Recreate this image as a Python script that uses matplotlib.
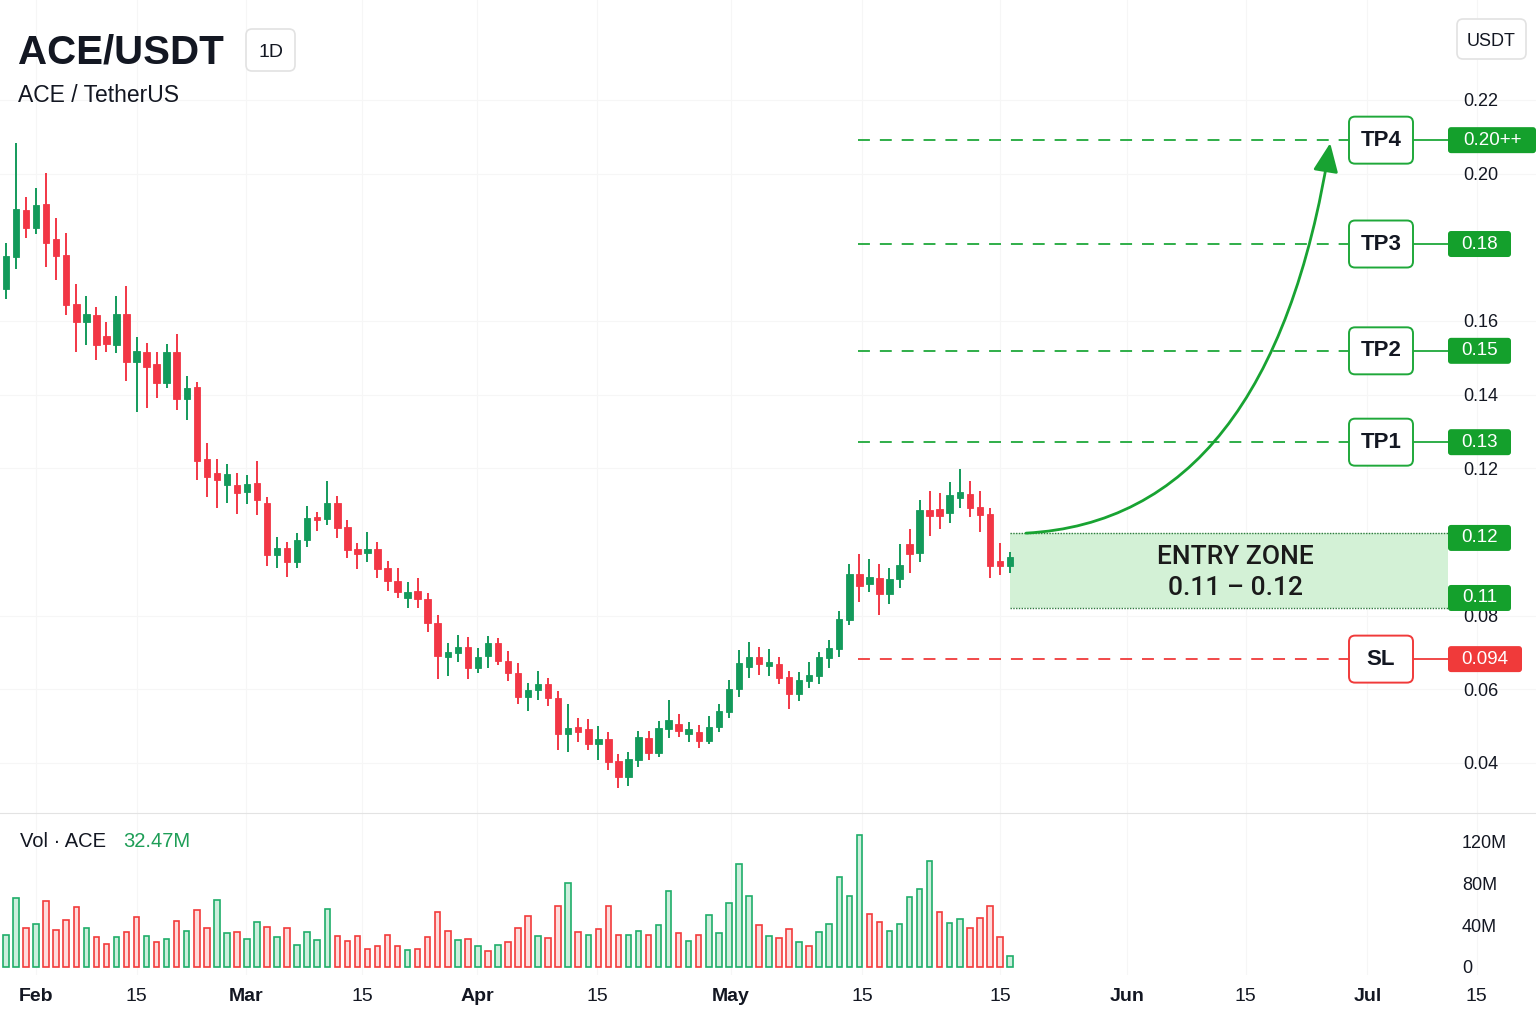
import numpy as np
import matplotlib
matplotlib.use('Agg')
import matplotlib.pyplot as plt
import matplotlib.transforms as mtransforms
from matplotlib.patches import FancyBboxPatch, Rectangle, FancyArrowPatch
from matplotlib.path import Path

plt.rcParams['font.family'] = ['Liberation Sans', 'DejaVu Sans']

W, H = 1536, 1024

# daily candles, ACE/USDT
opens = [
    0.1687, 0.1774, 0.1901, 0.1852, 0.1918, 0.1823, 0.1779, 0.1646, 0.1597, 0.1616,
    0.1559, 0.1535, 0.1619, 0.1489, 0.1516, 0.1483, 0.1432, 0.1516, 0.1388, 0.1421,
    0.1225, 0.1187, 0.1155, 0.1155, 0.1136, 0.1160, 0.1106, 0.0965, 0.0984, 0.0946,
    0.1005, 0.1068, 0.1063, 0.1106, 0.1041, 0.0981, 0.0970, 0.0981, 0.0929, 0.0894,
    0.0848, 0.0867, 0.0845, 0.0780, 0.0688, 0.0699, 0.0715, 0.0658, 0.0691, 0.0726,
    0.0677, 0.0644, 0.0579, 0.0598, 0.0614, 0.0576, 0.0479, 0.0498, 0.0492, 0.0452,
    0.0465, 0.0405, 0.0362, 0.0408, 0.0468, 0.0427, 0.0492, 0.0506, 0.0479, 0.0484,
    0.0460, 0.0498, 0.0538, 0.0601, 0.0661, 0.0688, 0.0663, 0.0669, 0.0634, 0.0587,
    0.0623, 0.0636, 0.0685, 0.0709, 0.0789, 0.0913, 0.0886, 0.0902, 0.0859, 0.0899,
    0.0995, 0.0970, 0.1087, 0.1090, 0.1079, 0.1120, 0.1130, 0.1095, 0.1076, 0.0948,
    0.0935]
highs = [
    0.1812, 0.2083, 0.1937, 0.1961, 0.2002, 0.1880, 0.1839, 0.1700, 0.1668, 0.1638,
    0.1597, 0.1668, 0.1695, 0.1557, 0.1540, 0.1516, 0.1537, 0.1565, 0.1451, 0.1434,
    0.1269, 0.1225, 0.1212, 0.1187, 0.1182, 0.1220, 0.1122, 0.1014, 0.1000, 0.1024,
    0.1098, 0.1081, 0.1166, 0.1125, 0.1060, 0.0997, 0.1027, 0.1000, 0.0948, 0.0929,
    0.0891, 0.0902, 0.0862, 0.0802, 0.0726, 0.0748, 0.0742, 0.0712, 0.0745, 0.0739,
    0.0704, 0.0671, 0.0617, 0.0650, 0.0631, 0.0595, 0.0560, 0.0522, 0.0520, 0.0500,
    0.0484, 0.0424, 0.0430, 0.0487, 0.0487, 0.0514, 0.0571, 0.0533, 0.0511, 0.0503,
    0.0528, 0.0560, 0.0625, 0.0707, 0.0729, 0.0715, 0.0709, 0.0688, 0.0650, 0.0647,
    0.0674, 0.0701, 0.0734, 0.0812, 0.0940, 0.0968, 0.0954, 0.0940, 0.0929, 0.0995,
    0.1035, 0.1114, 0.1138, 0.1133, 0.1163, 0.1198, 0.1166, 0.1138, 0.1092, 0.0997,
    0.0973]
lows = [
    0.1660, 0.1741, 0.1825, 0.1836, 0.1747, 0.1711, 0.1616, 0.1516, 0.1535, 0.1494,
    0.1516, 0.1513, 0.1437, 0.1353, 0.1364, 0.1391, 0.1418, 0.1358, 0.1331, 0.1168,
    0.1122, 0.1092, 0.1106, 0.1076, 0.1103, 0.1073, 0.0935, 0.0929, 0.0905, 0.0929,
    0.0986, 0.1030, 0.1046, 0.1011, 0.0957, 0.0927, 0.0946, 0.0902, 0.0867, 0.0848,
    0.0821, 0.0821, 0.0756, 0.0628, 0.0636, 0.0674, 0.0628, 0.0644, 0.0658, 0.0666,
    0.0623, 0.0560, 0.0541, 0.0571, 0.0555, 0.0435, 0.0430, 0.0457, 0.0435, 0.0408,
    0.0381, 0.0332, 0.0338, 0.0389, 0.0408, 0.0416, 0.0468, 0.0471, 0.0457, 0.0441,
    0.0452, 0.0484, 0.0522, 0.0579, 0.0631, 0.0639, 0.0636, 0.0614, 0.0547, 0.0568,
    0.0603, 0.0614, 0.0658, 0.0688, 0.0775, 0.0837, 0.0864, 0.0802, 0.0832, 0.0875,
    0.0916, 0.0946, 0.1016, 0.1035, 0.1052, 0.1092, 0.1068, 0.1027, 0.0902, 0.0910,
    0.0916]
closes = [
    0.1776, 0.1904, 0.1852, 0.1915, 0.1812, 0.1776, 0.1643, 0.1597, 0.1619, 0.1535,
    0.1537, 0.1619, 0.1489, 0.1519, 0.1475, 0.1432, 0.1516, 0.1388, 0.1418, 0.1220,
    0.1176, 0.1168, 0.1185, 0.1133, 0.1157, 0.1114, 0.0965, 0.0984, 0.0946, 0.1005,
    0.1065, 0.1060, 0.1106, 0.1038, 0.0978, 0.0968, 0.0981, 0.0927, 0.0894, 0.0864,
    0.0864, 0.0845, 0.0780, 0.0691, 0.0701, 0.0715, 0.0658, 0.0688, 0.0726, 0.0677,
    0.0644, 0.0579, 0.0598, 0.0614, 0.0576, 0.0479, 0.0495, 0.0484, 0.0452, 0.0465,
    0.0403, 0.0362, 0.0411, 0.0471, 0.0427, 0.0495, 0.0517, 0.0487, 0.0492, 0.0460,
    0.0498, 0.0541, 0.0601, 0.0671, 0.0688, 0.0669, 0.0674, 0.0631, 0.0587, 0.0625,
    0.0639, 0.0688, 0.0712, 0.0791, 0.0913, 0.0880, 0.0905, 0.0859, 0.0899, 0.0937,
    0.0968, 0.1087, 0.1071, 0.1071, 0.1128, 0.1136, 0.1092, 0.1073, 0.0935, 0.0935,
    0.0960]

# volume in millions, and bar colour (G = up, R = down) as shown in the pane
volumes = [
    30.7, 66.5, 37.1, 41.0, 63.4, 35.5, 44.8, 57.6, 37.1, 29.1,
    21.8, 29.1, 33.9, 48.3, 29.8, 24.3, 26.6, 44.5, 34.2, 54.4,
    37.1, 64.6, 32.9, 33.6, 26.6, 43.5, 38.1, 28.5, 37.4, 21.1,
    33.3, 25.9, 55.7, 30.1, 25.3, 30.1, 17.3, 20.2, 30.4, 20.5,
    16.6, 17.3, 28.8, 52.5, 34.6, 25.9, 26.9, 20.5, 15.7, 20.8,
    23.7, 37.1, 48.6, 29.8, 28.2, 58.2, 80.9, 33.3, 31.0, 36.8,
    58.2, 31.0, 31.0, 34.2, 30.7, 40.3, 73.0, 32.9, 25.3, 30.4,
    49.9, 32.9, 61.1, 99.2, 68.5, 40.3, 30.1, 27.8, 36.5, 24.0,
    20.2, 33.3, 41.0, 86.4, 68.2, 126.4, 51.2, 42.9, 34.2, 41.6,
    67.5, 74.9, 102.0, 52.5, 41.9, 46.1, 37.1, 47.3, 58.2, 29.1,
    10.8]
vol_dirs = ("GGRGRRRRGR" "RGRRGRGRGR" "RGGRGGRGRG" "GGGRRRRRRR" "GRRRRGRGRG"
            "RRRGRRGRGR" "RRGGRGGRGR" "GGGGGRGRRG" "RGGGGGRRGG" "GGGRGGRRRR" "G")

# price axis labels shown (0.10 and 0.18 sit under the tags and are not printed)
price_ticks = [0.04, 0.06, 0.08, 0.12, 0.14, 0.16, 0.20, 0.22]
vol_ticks = [0, 40, 80, 120]
vol_tick_labels = ['0', '40M', '80M', '120M']
date_ticks = [3.0, 13.0, 23.9, 35.5, 46.9, 58.9, 72.2, 85.3, 99.0, 111.7, 123.5, 135.6, 146.5]
date_labels = ['Feb', '15', 'Mar', '15', 'Apr', '15', 'May', '15', '15', 'Jun', '15', 'Jul', '15']

# trade plan levels (position on price axis) and the labels printed on them
tp_names = ['TP1', 'TP2', 'TP3', 'TP4']
tp_levels = [0.1271, 0.1519, 0.1809, 0.2091]
tp_labels = ['0.13', '0.15', '0.18', '0.20++']
sl_level = 0.0682
sl_label = '0.094'
entry_low, entry_high = 0.0821, 0.1024
entry_tag_levels = [0.1011, 0.0848]
entry_tag_labels = ['0.12', '0.11']

UP, DOWN = '#139a5b', '#f23645'
LINE_GREEN, TAG_GREEN, SL_RED = '#1fa83a', '#14a02c', '#f03a3a'
TXT = '#131722'

YLO, YHI = 0.02642, 0.24715
AX_BOTTOM, AX_H = 211, 813

fig = plt.figure(figsize=(W / 100, H / 100), dpi=100)
fig.patch.set_facecolor('white')
ax = fig.add_axes([0, AX_BOTTOM / H, 1, AX_H / H])
axv = fig.add_axes([0, 49 / H, 1, 162 / H])

# pixel transform (origin bottom-left) for boxes on the figure
pix = mtransforms.Affine2D().scale(1 / W, 1 / H) + fig.transFigure


def level_px(v):
    return AX_BOTTOM + (v - YLO) / (YHI - YLO) * AX_H


def box(x0, ycen, w, h, fc, ec, lw=1.4, r=6):
    p = FancyBboxPatch((x0, ycen - h / 2), w, h, boxstyle='round,pad=0,rounding_size=%s' % r,
                       fc=fc, ec=ec, lw=lw, transform=pix, zorder=5)
    fig.add_artist(p)


# candles
x = np.arange(len(opens))
o = np.array(opens)
c = np.array(closes)
col = np.where(c >= o, UP, DOWN)
ax.vlines(x, lows, highs, colors=col, lw=1.4, zorder=4)
ax.bar(x, np.abs(c - o), bottom=np.minimum(o, c), width=0.64, color=col,
       edgecolor=col, lw=0.6, zorder=5)

ax.set_xlim(-0.6, 152.4)
ax.set_ylim(YLO, YHI)
ax.set_yticks(price_ticks)
ax.set_yticklabels(['%.2f' % t for t in price_ticks])
ax.set_xticks(date_ticks)
ax.tick_params(axis='x', length=0, labelbottom=False)
ax.tick_params(axis='y', length=0, left=False, right=False, labelleft=False,
               labelright=True, pad=-52.6, labelsize=13, labelcolor=TXT)
ax.grid(True, color='#f6f6f6', lw=0.8)
ax.set_axisbelow(True)
for s in ax.spines.values():
    s.set_visible(False)

# entry zone
ax.add_patch(Rectangle((100.05, entry_low), 143.6 - 100.05, entry_high - entry_low,
                       facecolor='#d3f1d6', edgecolor='none', zorder=2))
for lv in (entry_low, entry_high):
    ax.plot([100.05, 143.6], [lv, lv], ls=(0, (1, 1)), color='#2e7a3e', lw=1, zorder=3)
zone_font = dict(ha='center', va='center', fontsize=19, color='#1a1a1a', zorder=6,
                 family=['Roboto', 'Liberation Sans'], fontweight='medium')
ax.text(122.5, 0.0958, 'ENTRY ZONE', **zone_font)
ax.text(122.5, 0.0876, '0.11 \u2013 0.12', **zone_font)

# TP / SL lines, boxes and price tags
dash = (0, (6.6, 5.5))
levels = [(n, lv, lb, LINE_GREEN, TAG_GREEN) for n, lv, lb in zip(tp_names, tp_levels, tp_labels)]
levels.append(('SL', sl_level, sl_label, SL_RED, SL_RED))
for name, lv, lab, lc, tc in levels:
    ax.plot([84.9, 133.8], [lv, lv], ls=dash, color=lc, lw=1.3, zorder=3)
    ax.plot([140.1, 143.6], [lv, lv], color=lc, lw=1.3, zorder=3)
    cy = level_px(lv)
    box(1349, cy, 64, 47, 'white', lc)
    fig.text(1381 / W, cy / H, name, ha='center', va='center', fontsize=16,
             fontweight='bold', color=TXT, zorder=6)
    tw = {'0.20++': 88, '0.094': 74}.get(lab, 63)
    box(1448, cy, tw, 26, tc, tc, lw=0, r=3)
    fig.text((1448 + tw / 2) / W, cy / H, lab, ha='center', va='center', fontsize=13.5,
             color='white', zorder=6)

for lv, lab in zip(entry_tag_levels, entry_tag_labels):
    cy = level_px(lv)
    box(1448, cy, 63, 26, TAG_GREEN, TAG_GREEN, lw=0, r=3)
    fig.text((1448 + 31.5) / W, cy / H, lab, ha='center', va='center', fontsize=13.5,
             color='white', zorder=6)

# projected move arrow
arrow_path = Path([(101.6, 0.1024), (125.9, 0.1060), (131.9, 0.2083)],
                  [Path.MOVETO, Path.CURVE3, Path.CURVE3])
ax.add_patch(FancyArrowPatch(path=arrow_path, arrowstyle='-|>,head_length=0.8,head_width=0.35',
                             mutation_scale=22, color='#18a332', lw=2, zorder=6))

# volume pane
fills = ['#cdeedd' if d == 'G' else '#fddcdc' for d in vol_dirs]
edges = ['#1fae6a' if d == 'G' else '#f23b3b' for d in vol_dirs]
axv.bar(x, volumes, width=0.55, color=fills, edgecolor=edges, lw=1.2, zorder=3)
axv.set_xlim(-0.6, 152.4)
axv.set_ylim(-7.7, 147.8)
axv.set_yticks(vol_ticks)
axv.set_yticklabels(vol_tick_labels)
axv.set_xticks(date_ticks)
axv.set_xticklabels(date_labels)
axv.tick_params(axis='y', length=0, left=False, right=False, labelleft=False,
                labelright=True, pad=-53.3, labelsize=13, labelcolor=TXT)
axv.tick_params(axis='x', length=0, pad=9.4, labelsize=14, labelcolor=TXT)
for lbl in axv.get_xticklabels():
    if lbl.get_text() in ('Feb', 'Mar', 'Apr', 'May', 'Jun', 'Jul'):
        lbl.set_fontweight('bold')
axv.grid(True, axis='x', color='#f6f6f6', lw=0.8)
axv.set_axisbelow(True)
for k, s in axv.spines.items():
    s.set_visible(k == 'top')
axv.spines['top'].set_color('#e3e3e3')
axv.patch.set_alpha(0)

# header
fig.text(18 / W, 1 - 64 / H, 'ACE/USDT', fontsize=29, fontweight='bold', color=TXT, va='baseline')
fig.text(18 / W, 1 - 102 / H, 'ACE / TetherUS', fontsize=16.5, color=TXT, va='baseline')
box(246, H - 50, 49, 42, 'white', '#e2e2e2', lw=1.2)
fig.text(270.5 / W, 1 - 57 / H, '1D', fontsize=14, color=TXT, ha='center', va='baseline', zorder=6)
box(1457, H - 39, 69, 40, 'white', '#e2e2e2', lw=1.2)
fig.text(1491.5 / W, 1 - 46 / H, 'USDT', fontsize=13, color=TXT, ha='center', va='baseline', zorder=6)

fig.text(20 / W, 1 - 847 / H, 'Vol \u00b7 ACE', fontsize=14.5, color=TXT, va='baseline')
fig.text(123 / W, 1 - 847 / H, '32.47M', fontsize=14.5, color='#1e9e57', va='baseline')

fig.savefig('out.png', dpi=100, facecolor='white')
